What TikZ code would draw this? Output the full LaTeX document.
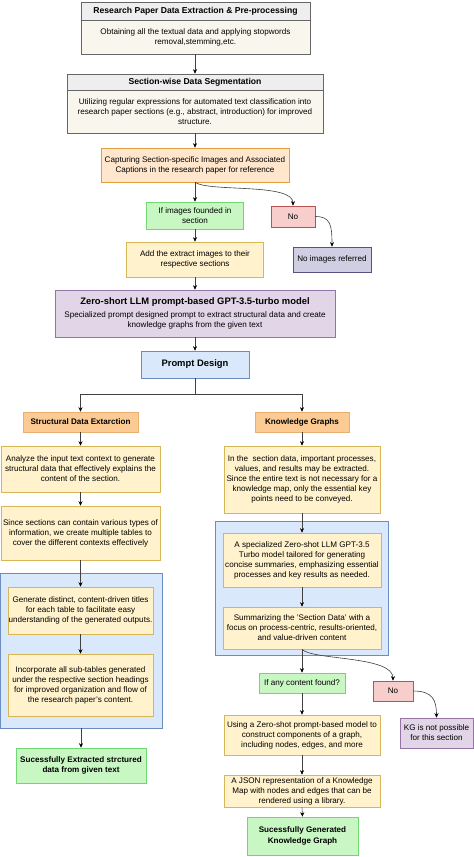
\documentclass[tikz,border=0pt]{standalone}
\usepackage{fontspec}
\setmainfont{Liberation Sans}
\usetikzlibrary{arrows.meta}
\definecolor{hdrfill}{HTML}{EEEEEE}
\definecolor{hdrline}{HTML}{666666}
\definecolor{bodyfill}{HTML}{F9F7ED}
\definecolor{capfill}{HTML}{FFE6CC}
\definecolor{capline}{HTML}{E0A040}
\definecolor{orfill}{HTML}{FCCB94}
\definecolor{orline}{HTML}{E8B070}
\definecolor{grfill}{HTML}{C9F7C4}
\definecolor{grline}{HTML}{70D870}
\definecolor{redfill}{HTML}{F8CECC}
\definecolor{redline}{HTML}{B85450}
\definecolor{lavfill}{HTML}{D0CEE2}
\definecolor{lavline}{HTML}{56517E}
\definecolor{yelfill}{HTML}{FFF2CC}
\definecolor{yelline}{HTML}{D6B656}
\definecolor{purfill}{HTML}{E1D5E7}
\definecolor{purline}{HTML}{9673A6}
\definecolor{blufill}{HTML}{DAE8FC}
\definecolor{bluline}{HTML}{6C8EBF}
\begin{document}
\begin{tikzpicture}[x=1pt,y=-1pt,
  bx/.style={draw, align=center, inner sep=0pt, line width=0.6pt,
    font={\fontsize{8.1}{10}\selectfont}},
  bold/.style={font={\fontsize{8.6}{10.4}\selectfont\bfseries}},
  sbold/.style={font={\fontsize{8.1}{10.2}\selectfont\bfseries}},
  big/.style={font={\fontsize{9.4}{11}\selectfont\bfseries}},
  hdr/.style={bx, bold, fill=hdrfill, draw=hdrline},
  body/.style={bx, fill=bodyfill, draw=hdrline},
  capb/.style={bx, fill=capfill, draw=capline},
  orb/.style={bx, sbold, fill=orfill, draw=orline},
  grb/.style={bx, fill=grfill, draw=grline},
  redb/.style={bx, fill=redfill, draw=redline},
  lavb/.style={bx, fill=lavfill, draw=lavline},
  yelb/.style={bx, fill=yelfill, draw=yelline},
  purb/.style={bx, fill=purfill, draw=purline},
  blub/.style={bx, fill=blufill, draw=bluline},
  arr/.style={draw=black!75, line width=0.6pt, -{Stealth[length=4.5pt,width=4pt,color=black]}}
]
\useasboundingbox (0,0) rectangle (474,857);
\fill[white] (0,0) rectangle (474,857);

% top
\node[hdr, minimum width=229pt, minimum height=18pt] (h1) at (195.5,11) {Research Paper Data Extraction \& Pre-processing};
\node[body, minimum width=229pt, minimum height=34pt] (b1) at (195.5,37) {Obtaining all the textual data and applying stopwords\\removal,stemming,etc.};
\node[hdr, minimum width=256pt, minimum height=16pt] (h2) at (195,82) {Section-wise Data Segmentation};
\node[body, minimum width=256pt, minimum height=43pt] (b2) at (195,111.5) {Utilizing regular expressions for automated text classification into\\research paper sections (e.g., abstract, introduction) for improved\\structure.};
\node[capb, minimum width=188pt, minimum height=34pt] (cap) at (195,165) {Capturing Section-specific Images and Associated\\Captions in the research paper for reference};
\node[grb, minimum width=97pt, minimum height=27pt] (img) at (195,215.5) {If images founded in\\section};
\node[redb, minimum width=44pt, minimum height=21pt] (no1) at (293,216.5) {No};
\node[lavb, minimum width=78pt, minimum height=25pt] (noimg) at (332,259.5) {No images referred};
\node[yelb, minimum width=137pt, minimum height=35pt] (add) at (195,259.5) {Add the extract images to their\\respective sections};
\node[purb, minimum width=280pt, minimum height=47pt] (llm) at (195,313.5) {{\fontsize{9.4}{11}\selectfont\bfseries Zero-short LLM prompt-based GPT-3.5-turbo model}\\[3pt]Specialized prompt designed prompt to extract structural data and create\\knowledge graphs from the given text};
\node[blub, big, minimum width=108pt, minimum height=27pt] (pd) at (195,364.5) {Prompt Design};
\node[orb, minimum width=115pt, minimum height=20pt] (sde) at (80.5,422) {Structural Data Extarction};
\node[orb, minimum width=94pt, minimum height=20pt] (kgh) at (302,422) {Knowledge Graphs};

% left column
\node[yelb, minimum width=159pt, minimum height=46pt] (L1) at (80.5,469) {Analyze the input text context to generate\\structural data that effectively explains the\\content of the section.};
\node[yelb, minimum width=159pt, minimum height=54pt] (L2) at (80.5,533) {Since sections can contain various types of\\information, we create multiple tables to\\cover the different contexts effectively};
\node[blub, minimum width=162pt, minimum height=155pt] (Lc) at (81,650.5) {};
\node[yelb, minimum width=145pt, minimum height=47pt] (L3) at (80.5,610.5) {Generate distinct, content-driven titles\\for each table to facilitate easy\\understanding of the generated outputs.};
\node[yelb, minimum width=145pt, minimum height=62pt] (L4) at (80.5,685) {Incorporate all sub-tables generated\\under the respective section headings\\for improved organization and flow of\\the research paper's content.};
\node[grb, sbold, minimum width=130pt, minimum height=35pt] (Lok) at (81,765.5) {Sucessfully Extracted strctured\\data from given text};

% right column
\node[yelb, minimum width=156pt, minimum height=67pt] (R1) at (302,479.5) {In the\ \ section data, important processes,\\values, and results may be extracted.\\Since the entire text is not necessary for a\\knowledge map, only the essential key\\points need to be conveyed.};
\node[blub, minimum width=173pt, minimum height=134pt] (Rc) at (301.5,588) {};
\node[yelb, minimum width=158pt, minimum height=54pt] (R2) at (302,560) {A specialized Zero-shot LLM GPT-3.5\\Turbo model tailored for generating\\concise summaries, emphasizing essential\\processes and key results as needed.};
\node[yelb, minimum width=158pt, minimum height=42pt] (R3) at (302,628) {Summarizing the 'Section Data' with a\\focus on process-centric, results-oriented,\\and value-driven content};
\node[grb, minimum width=86pt, minimum height=20pt] (Rif) at (302,683) {If any content found?};
\node[redb, minimum width=40pt, minimum height=20pt] (no2) at (393,691) {No};
\node[purb, minimum width=73pt, minimum height=30pt] (kgno) at (436.5,733) {KG is not possible\\for this section};
\node[yelb, minimum width=156pt, minimum height=40pt] (R4) at (302,735) {Using a Zero-shot prompt-based model to\\construct components of a graph,\\including nodes, edges, and more};
\node[yelb, minimum width=156pt, minimum height=32pt] (R5) at (302,791) {A JSON representation of a Knowledge\\Map with nodes and edges that can be\\rendered using a library.};
\node[grb, sbold, minimum width=111pt, minimum height=38pt] (Rok) at (302.5,836) {Sucessfully Generated\\Knowledge Graph};

% connectors top
\draw[arr] (b1.south -| h2.north) -- (h2.north);
\draw[arr] (b2.south) -- (cap.north);
\draw[arr] (cap.south) -- (img.north);
\draw[arr] (cap.south) .. controls +(15,10) and +(0,-23) .. (no1.north);
\draw[arr] (no1.east) .. controls +(15,0) and +(0,-22) .. (noimg.north);
\draw[arr] (img.south) -- (add.north);
\draw[arr] (add.south) -- (llm.north);
\draw[arr] (llm.south) -- (pd.north);
\draw[draw=black!75, line width=0.6pt] (pd.south) -- ++(0,16) coordinate (j);
\draw[arr] (j) -| (sde.north);
\draw[arr] (j) -| (kgh.north);

% connectors left
\draw[arr] (sde.south) -- (L1.north);
\draw[arr] (L1.south) -- (L2.north);
\draw[arr] (L2.south) -- (L3.north);
\draw[arr] (L3.south) -- (L4.north);
\draw[arr] (Lc.south) -- (Lok.north);

% connectors right
\draw[arr] (kgh.south) -- (R1.north);
\draw[arr] (R1.south) -- (R2.north);
\draw[arr] (R2.south) -- (R3.north);
\draw[arr] (R3.south) -- (Rif.north);
\draw[arr] (R3.south) .. controls +(10,11) and +(0,-25) .. (no2.north);
\draw[arr] (no2.east) .. controls +(19,0) and +(0,-18) .. (kgno.north);
\draw[arr] (Rif.south) -- (R4.north);
\draw[arr] (R4.south) -- (R5.north);
\draw[arr] (R5.south) -- (Rok.north);
\end{tikzpicture}
\end{document}
